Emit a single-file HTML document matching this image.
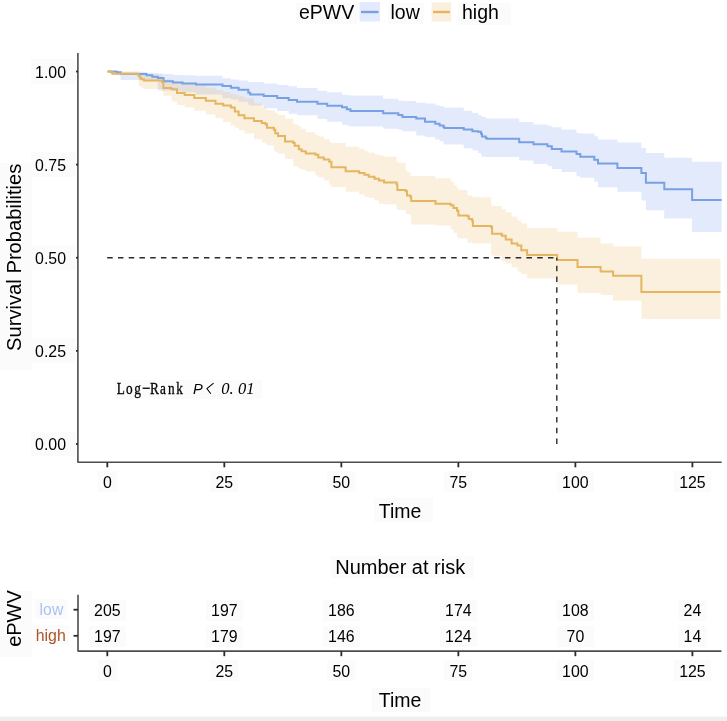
<!DOCTYPE html>
<html><head><meta charset="utf-8"><style>
html,body{margin:0;padding:0;background:#fff;}
svg{display:block;}
#w{will-change:transform;width:727px;height:721px;overflow:hidden;}
</style></head><body><div id="w">
<svg width="727" height="721" viewBox="0 0 727 721" font-family="'Liberation Sans', sans-serif" fill="#000">
<rect x="296" y="3" width="62" height="21" fill="#fbfbfb"/>
<rect x="388" y="3" width="36" height="21" fill="#fbfbfb"/>
<rect x="458" y="3" width="53" height="22" fill="#fbfbfb"/>
<text transform="translate(299,19.2)" font-size="19.5">ePWV</text>
<rect x="359.5" y="2" width="20.5" height="19.5" fill="#6e96f0" fill-opacity="0.2"/>
<line x1="361" y1="12" x2="378.5" y2="12" stroke="#77a1e3" stroke-width="2.4"/>
<text transform="translate(390.5,19.2)" font-size="19.5">low</text>
<rect x="431.6" y="2.3" width="19.6" height="19.3" fill="#ebaf55" fill-opacity="0.2"/>
<line x1="433" y1="12" x2="450" y2="12" stroke="#e5b660" stroke-width="2.4"/>
<text transform="translate(462,19.2)" font-size="19.5">high</text>
<path d="M107.5,71.52H116.5V71.74H120.6V71.84H146.5V72.73H152.3V73.12H157.8V73.49H163.5V74.08H172.9V74.95H182.5V75.26H196V75.7H222.5V78.34H231V79.45H238.6V80.59H248.3V81.89H250.2V82.08H263.7V83.41H277.2V84.98H288.7V86.36H297V87.92H317.5V90.79H327.2V92.31H342V94.68H346.8V95.23H350.5V95.54H383.2V98.65H398.3V100.52H402.4V101.01H416.3V102.68H425V103.54H435.3V105.15H439.6V106.1H443.5V107.1H444.4V107.53H463.7V110.81H472.4V113.03H478.1V114.91H481V116.12H482V116.88H485.8V118.35H486.8V118.49H519.2V122.01H533.5V124.41H547.5V125.75H551.8V127.37H561.5V129.4H576.5V132.92H580.3V133.48H594.3V136.33H598V139.51H617.4V142.52H641.4V148.06H645.9V152.88H664.3V157.85H692.1V161.8H721.7V232.1H692.1V218.41H664.3V210.15H645.9V200.61H641.4V191.7H617.4V187.36H598V181.83H594.3V177.85H580.3V176.28H576.5V172.01H561.5V168.98H551.8V166.01H547.5V163.92H533.5V160.54H519.2V157.03H486.8V156.97H485.8V156.84H482V155.35H481V153.06H478.1V150.54H472.4V148.33H463.7V144.4H444.4V143.93H443.5V141.21H439.6V139.44H435.3V137.12H425V135.46H416.3V131.29H402.4V129.84H398.3V128.64H383.2V126.54H350.5V125.82H346.8V124.77H342V121.74H327.2V118.91H317.5V115.33H297V113.77H288.7V110.93H277.2V108.34H263.7V105.4H250.2V104.86H248.3V101.82H238.6V99.52H231V98.32H222.5V94.49H196V92.17H182.5V91.34H172.9V90.62H163.5V90.5H157.8V80.64H152.3V80.37H146.5V79.9H120.6V75.25H116.5V71.68H107.5Z" fill="#6e96f0" fill-opacity="0.2"/>
<path d="M107.5,71.43H111V71.53H112.4V71.58H138.5V72.96H139.9V73.38H141.3V73.82H144V74.48H162V78.8H163.4V79.17H171.5V80.73H177V81.78H184.7V83.26H194.3V85.1H205.9V87.7H215.5V90.06H223.2V91.96H230.9V93.86H234.8V95.02H238.6V96.27H244.4V98.17H254V103.61H261.8V107.15H265.5V109.19H267V110.22H273.9V111.03H275.3V113.25H278V115.07H285V118.65H293.3V123.85H294.7V124.79H298.8V126.81H301.6V128.7H305.8V132.19H315.5V135.19H318.3V136.58H323.8V139.31H329.3V142.09H331.4V143.08H345.6V146.8H359.2V148.8H364.5V151H368.7V152.67H374.5V154.57H379V155.53H384V156.6H396.6V162.1H397.4V162.81H405.7V170.39H407V172.2H410.5V175.05H411.2V176.11H435.5V178.16H450.7V181.52H453.5V185.2H457V188.53H458.4V190.07H467.4V195.1H468.8V195.84H472.2V196.77H472.9V197.22H491.2V205.03H492.1V205.9H501.8V209.26H505.7V212.21H511.6V216.42H517.4V220.53H521.3V223.43H527.1V228.07H557.2V231.8H577.5V237.74H600.6V243.38H613.1V246.62H641.4V258.8H720.5V319.1H641.4V300.83H613.1V295.06H600.6V293H577.5V284.51H557.2V278.4H527.1V274H521.3V271.39H517.4V267.51H511.6V263.57H505.7V261.24H501.8V255.67H492.1V253.95H491.2V243.4H472.9V243.21H472.2V242.82H468.8V242.59H467.4V238.32H458.4V237.1H457V232.83H453.5V229.14H450.7V225.41H435.5V224.61H411.2V217.33H410.5V213.89H407V213.23H405.7V210.03H397.4V209.46H396.6V204.3H384V203.8H379V200.58H374.5V197.96H368.7V196.74H364.5V194.6H359.2V191.75H345.6V187.1H331.4V184.73H329.3V180.51H323.8V177.25H318.3V175.59H315.5V171.43H305.8V169.71H301.6V168.66H298.8V166.65H294.7V165.38H293.3V158.93H285V153.77H278V151.94H275.3V150.75H273.9V145.26H267V143.98H265.5V142.82H261.8V139.14H254V133.52H244.4V130.27H238.6V127.76H234.8V125.48H230.9V122.08H223.2V118.32H215.5V114.58H205.9V110.67H194.3V107.54H184.7V105.03H177V101.47H171.5V95.65H163.4V92.07H162V89.03H144V87.73H141.3V86.45H139.9V85.63H138.5V73.65H112.4V72.89H111V71.76H107.5Z" fill="#ebaf55" fill-opacity="0.2"/>
<path d="M107.5,71.5H116.5V72.2H120.6V74H146.5V75.3H152.3V76.7H157.8V77.9H163.5V81.3H172.9V82.5H182.5V83.4H196V84.4H222.5V85.9H231V87.8H238.6V89.8H248.3V92.8H250.2V94.6H263.7V96H277.2V97.9H288.7V99.9H297V101.7H317.5V103.8H327.2V105.8H342V107.2H346.8V109.3H350.5V110.9H383.2V113.2H398.3V114.9H402.4V117H416.3V118.5H425V121.8H435.3V123.8H439.6V125.5H443.5V127H444.4V127.9H463.7V129.4H472.4V131.3H478.1V131.8H481V133.7H482V136.6H485.8V138H486.8V138.7H519.2V142.3H533.5V144.2H547.5V146.3H551.8V149H561.5V151.6H576.5V154H580.3V156.8H594.3V159.7H598V163.6H617.4V167.9H641.4V173H645.9V182.8H664.3V189.3H692.1V200H721.7" fill="none" stroke="#77a1e3" stroke-width="2"/>
<path d="M107.5,71.4H111V72.3H112.4V73.7H138.5V75.8H139.9V77.8H141.3V79.2H144V80.6H162V82H163.4V88H171.5V89.3H177V93.1H184.7V95H194.3V97.9H205.9V100.8H215.5V103.7H223.2V105.6H230.9V107.6H234.8V111.4H238.6V115.3H244.4V118.2H254V121.1H261.8V123H265.5V124.3H267V127.7H273.9V129.8H275.3V133.3H278V136H285V141.6H293.3V143H294.7V145.8H298.8V149.2H301.6V151.3H305.8V153.4H315.5V154.8H318.3V157.6H323.8V159.6H329.3V161.7H331.4V167.3H345.6V171.2H359.2V172.9H364.5V174.8H368.7V176.8H374.5V178.7H379V180.6H384V182.6H396.6V184.5H397.4V189.9H405.7V191.3H407V195.5H410.5V197H411.2V201H435.5V203.8H450.7V205.2H453.5V208H457V210.7H458.4V215.6H467.4V216.3H468.8V219.1H472.2V221.1H472.9V226H491.2V227H492.1V233.8H501.8V235.7H505.7V239.6H511.6V243.5H517.4V245.4H521.3V250.3H527.1V255.1H557.2V260H577.5V266.9H600.6V271.6H613.1V275.8H641.4V292H720.5" fill="none" stroke="#e5b660" stroke-width="2"/>
<path d="M107.2,257.7H556.8" fill="none" stroke="#2a2a2a" stroke-width="1.4" stroke-dasharray="5.5,5.25"/>
<path d="M556.8,444V257.7" fill="none" stroke="#2a2a2a" stroke-width="1.4" stroke-dasharray="5.5,5.3"/>
<path d="M77.9,53V462.3H721.7" fill="none" stroke="#4d4d4d" stroke-width="1.6" stroke-linejoin="round"/>
<line x1="75.3" y1="71.5" x2="77.9" y2="71.5" stroke="#2b2b2b" stroke-width="1.8"/>
<line x1="75.3" y1="164.62" x2="77.9" y2="164.62" stroke="#2b2b2b" stroke-width="1.8"/>
<line x1="75.3" y1="257.75" x2="77.9" y2="257.75" stroke="#2b2b2b" stroke-width="1.8"/>
<line x1="75.3" y1="350.88" x2="77.9" y2="350.88" stroke="#2b2b2b" stroke-width="1.8"/>
<line x1="75.3" y1="444" x2="77.9" y2="444" stroke="#2b2b2b" stroke-width="1.8"/>
<line x1="107.3" y1="462.3" x2="107.3" y2="467.3" stroke="#2b2b2b" stroke-width="1.8"/>
<line x1="224.32" y1="462.3" x2="224.32" y2="467.3" stroke="#2b2b2b" stroke-width="1.8"/>
<line x1="341.34" y1="462.3" x2="341.34" y2="467.3" stroke="#2b2b2b" stroke-width="1.8"/>
<line x1="458.36" y1="462.3" x2="458.36" y2="467.3" stroke="#2b2b2b" stroke-width="1.8"/>
<line x1="575.38" y1="462.3" x2="575.38" y2="467.3" stroke="#2b2b2b" stroke-width="1.8"/>
<line x1="692.4" y1="462.3" x2="692.4" y2="467.3" stroke="#2b2b2b" stroke-width="1.8"/>
<rect x="31" y="59" width="45" height="25" fill="#fbfbfb"/>
<text transform="translate(66,77.7) scale(1,1.075)" font-size="15.9" text-anchor="end">1.00</text>
<rect x="31" y="152.12" width="45" height="25" fill="#fbfbfb"/>
<text transform="translate(66,170.82) scale(1,1.075)" font-size="15.9" text-anchor="end">0.75</text>
<rect x="31" y="245.25" width="45" height="25" fill="#fbfbfb"/>
<text transform="translate(66,263.95) scale(1,1.075)" font-size="15.9" text-anchor="end">0.50</text>
<rect x="31" y="338.38" width="45" height="25" fill="#fbfbfb"/>
<text transform="translate(66,357.07) scale(1,1.075)" font-size="15.9" text-anchor="end">0.25</text>
<rect x="31" y="431.5" width="45" height="25" fill="#fbfbfb"/>
<text transform="translate(66,450.2) scale(1,1.075)" font-size="15.9" text-anchor="end">0.00</text>
<rect x="97.8" y="471" width="19" height="21" fill="#fbfbfb"/>
<text transform="translate(107.3,488) scale(1,1.075)" font-size="15.9" text-anchor="middle">0</text>
<rect x="210.32" y="471" width="28" height="21" fill="#fbfbfb"/>
<text transform="translate(224.32,488) scale(1,1.075)" font-size="15.9" text-anchor="middle">25</text>
<rect x="327.34" y="471" width="28" height="21" fill="#fbfbfb"/>
<text transform="translate(341.34,488) scale(1,1.075)" font-size="15.9" text-anchor="middle">50</text>
<rect x="444.36" y="471" width="28" height="21" fill="#fbfbfb"/>
<text transform="translate(458.36,488) scale(1,1.075)" font-size="15.9" text-anchor="middle">75</text>
<rect x="556.88" y="471" width="37" height="21" fill="#fbfbfb"/>
<text transform="translate(575.38,488) scale(1,1.075)" font-size="15.9" text-anchor="middle">100</text>
<rect x="673.9" y="471" width="37" height="21" fill="#fbfbfb"/>
<text transform="translate(692.4,488) scale(1,1.075)" font-size="15.9" text-anchor="middle">125</text>
<rect x="374" y="498" width="59" height="24" fill="#fbfbfb"/>
<text transform="translate(400,517.9)" font-size="19.5" text-anchor="middle">Time</text>
<rect x="0" y="163" width="32" height="207" fill="#fbfbfb"/>
<text transform="translate(20.8,257.3) rotate(-90)" font-size="20.2" text-anchor="middle">Survival Probabilities</text>
<rect x="114" y="380" width="148" height="19" fill="#fbfbfb"/>
<text transform="translate(120.9,394.2) scale(0.8,1)" font-family="Liberation Serif" font-size="16.6" text-anchor="middle" stroke="#000" stroke-width="0.3">L</text>
<text transform="translate(129.29,394.2) scale(0.8,1)" font-family="Liberation Serif" font-size="16.6" text-anchor="middle" stroke="#000" stroke-width="0.3">o</text>
<text transform="translate(137.68,394.2) scale(0.8,1)" font-family="Liberation Serif" font-size="16.6" text-anchor="middle" stroke="#000" stroke-width="0.3">g</text>
<text transform="translate(154.46,394.2) scale(0.8,1)" font-family="Liberation Serif" font-size="16.6" text-anchor="middle" stroke="#000" stroke-width="0.3">R</text>
<text transform="translate(162.85,394.2) scale(0.8,1)" font-family="Liberation Serif" font-size="16.6" text-anchor="middle" stroke="#000" stroke-width="0.3">a</text>
<text transform="translate(171.24,394.2) scale(0.8,1)" font-family="Liberation Serif" font-size="16.6" text-anchor="middle" stroke="#000" stroke-width="0.3">n</text>
<text transform="translate(179.63,394.2) scale(0.8,1)" font-family="Liberation Serif" font-size="16.6" text-anchor="middle" stroke="#000" stroke-width="0.3">k</text>
<rect x="142.6" y="387.6" width="7.2" height="1.3" fill="#000"/>
<text x="192.9" y="394.4" font-size="14.6" font-style="italic">P</text>
<path d="M213.6,383.2L206.9,388.5L210.8,393.8" fill="none" stroke="#000" stroke-width="1.05"/>
<text x="221.2" y="394.3" font-family="Liberation Serif" font-size="16.5" font-style="italic">0.</text>
<text x="238" y="394.3" font-family="Liberation Serif" font-size="16.5" font-style="italic">01</text>
<rect x="331" y="556" width="143" height="22" fill="#fbfbfb"/>
<text transform="translate(400.2,574)" font-size="20" text-anchor="middle">Number at risk</text>
<rect x="0" y="591" width="32" height="66" fill="#fbfbfb"/>
<text transform="translate(20.8,618.5) rotate(-90)" font-size="20" text-anchor="middle">ePWV</text>
<rect x="35" y="599" width="32" height="20" fill="#fbfbfb"/>
<rect x="33" y="625" width="36" height="20" fill="#fbfbfb"/>
<text transform="translate(63.3,614.7)" font-size="15.8" text-anchor="end" fill="#a9c3f4">low</text>
<text transform="translate(65.8,640.5) scale(1,1.08)" font-size="15.9" text-anchor="end" fill="#ad5428">high</text>
<path d="M78,594.8V651.1H721.4" fill="none" stroke="#4d4d4d" stroke-width="1.6" stroke-linejoin="round"/>
<line x1="73.5" y1="609.7" x2="78" y2="609.7" stroke="#2b2b2b" stroke-width="1.8"/>
<line x1="73.5" y1="635.8" x2="78" y2="635.8" stroke="#2b2b2b" stroke-width="1.8"/>
<line x1="107.3" y1="651.1" x2="107.3" y2="656.2" stroke="#2b2b2b" stroke-width="1.8"/>
<line x1="224.32" y1="651.1" x2="224.32" y2="656.2" stroke="#2b2b2b" stroke-width="1.8"/>
<line x1="341.34" y1="651.1" x2="341.34" y2="656.2" stroke="#2b2b2b" stroke-width="1.8"/>
<line x1="458.36" y1="651.1" x2="458.36" y2="656.2" stroke="#2b2b2b" stroke-width="1.8"/>
<line x1="575.38" y1="651.1" x2="575.38" y2="656.2" stroke="#2b2b2b" stroke-width="1.8"/>
<line x1="692.4" y1="651.1" x2="692.4" y2="656.2" stroke="#2b2b2b" stroke-width="1.8"/>
<rect x="88.8" y="600" width="37" height="21" fill="#fbfbfb"/>
<rect x="88.8" y="626" width="37" height="21" fill="#fbfbfb"/>
<text transform="translate(107.3,616.3) scale(1,1.075)" font-size="15.9" text-anchor="middle">205</text>
<text transform="translate(107.3,642.2) scale(1,1.075)" font-size="15.9" text-anchor="middle">197</text>
<rect x="205.82" y="600" width="37" height="21" fill="#fbfbfb"/>
<rect x="205.82" y="626" width="37" height="21" fill="#fbfbfb"/>
<text transform="translate(224.32,616.3) scale(1,1.075)" font-size="15.9" text-anchor="middle">197</text>
<text transform="translate(224.32,642.2) scale(1,1.075)" font-size="15.9" text-anchor="middle">179</text>
<rect x="322.84" y="600" width="37" height="21" fill="#fbfbfb"/>
<rect x="322.84" y="626" width="37" height="21" fill="#fbfbfb"/>
<text transform="translate(341.34,616.3) scale(1,1.075)" font-size="15.9" text-anchor="middle">186</text>
<text transform="translate(341.34,642.2) scale(1,1.075)" font-size="15.9" text-anchor="middle">146</text>
<rect x="439.86" y="600" width="37" height="21" fill="#fbfbfb"/>
<rect x="439.86" y="626" width="37" height="21" fill="#fbfbfb"/>
<text transform="translate(458.36,616.3) scale(1,1.075)" font-size="15.9" text-anchor="middle">174</text>
<text transform="translate(458.36,642.2) scale(1,1.075)" font-size="15.9" text-anchor="middle">124</text>
<rect x="556.88" y="600" width="37" height="21" fill="#fbfbfb"/>
<rect x="556.88" y="626" width="37" height="21" fill="#fbfbfb"/>
<text transform="translate(575.38,616.3) scale(1,1.075)" font-size="15.9" text-anchor="middle">108</text>
<text transform="translate(575.38,642.2) scale(1,1.075)" font-size="15.9" text-anchor="middle">70</text>
<rect x="678.4" y="600" width="28" height="21" fill="#fbfbfb"/>
<rect x="678.4" y="626" width="28" height="21" fill="#fbfbfb"/>
<text transform="translate(692.4,616.3) scale(1,1.075)" font-size="15.9" text-anchor="middle">24</text>
<text transform="translate(692.4,642.2) scale(1,1.075)" font-size="15.9" text-anchor="middle">14</text>
<rect x="97.8" y="660" width="19" height="21" fill="#fbfbfb"/>
<text transform="translate(107.3,676.5) scale(1,1.075)" font-size="15.9" text-anchor="middle">0</text>
<rect x="210.32" y="660" width="28" height="21" fill="#fbfbfb"/>
<text transform="translate(224.32,676.5) scale(1,1.075)" font-size="15.9" text-anchor="middle">25</text>
<rect x="327.34" y="660" width="28" height="21" fill="#fbfbfb"/>
<text transform="translate(341.34,676.5) scale(1,1.075)" font-size="15.9" text-anchor="middle">50</text>
<rect x="444.36" y="660" width="28" height="21" fill="#fbfbfb"/>
<text transform="translate(458.36,676.5) scale(1,1.075)" font-size="15.9" text-anchor="middle">75</text>
<rect x="556.88" y="660" width="37" height="21" fill="#fbfbfb"/>
<text transform="translate(575.38,676.5) scale(1,1.075)" font-size="15.9" text-anchor="middle">100</text>
<rect x="673.9" y="660" width="37" height="21" fill="#fbfbfb"/>
<text transform="translate(692.4,676.5) scale(1,1.075)" font-size="15.9" text-anchor="middle">125</text>
<rect x="371.5" y="688" width="59" height="24" fill="#fbfbfb"/>
<text transform="translate(400,706.7)" font-size="19.5" text-anchor="middle">Time</text>
<rect x="0" y="716.5" width="727" height="5" fill="#efefef"/>
</svg></div>
</body></html>
